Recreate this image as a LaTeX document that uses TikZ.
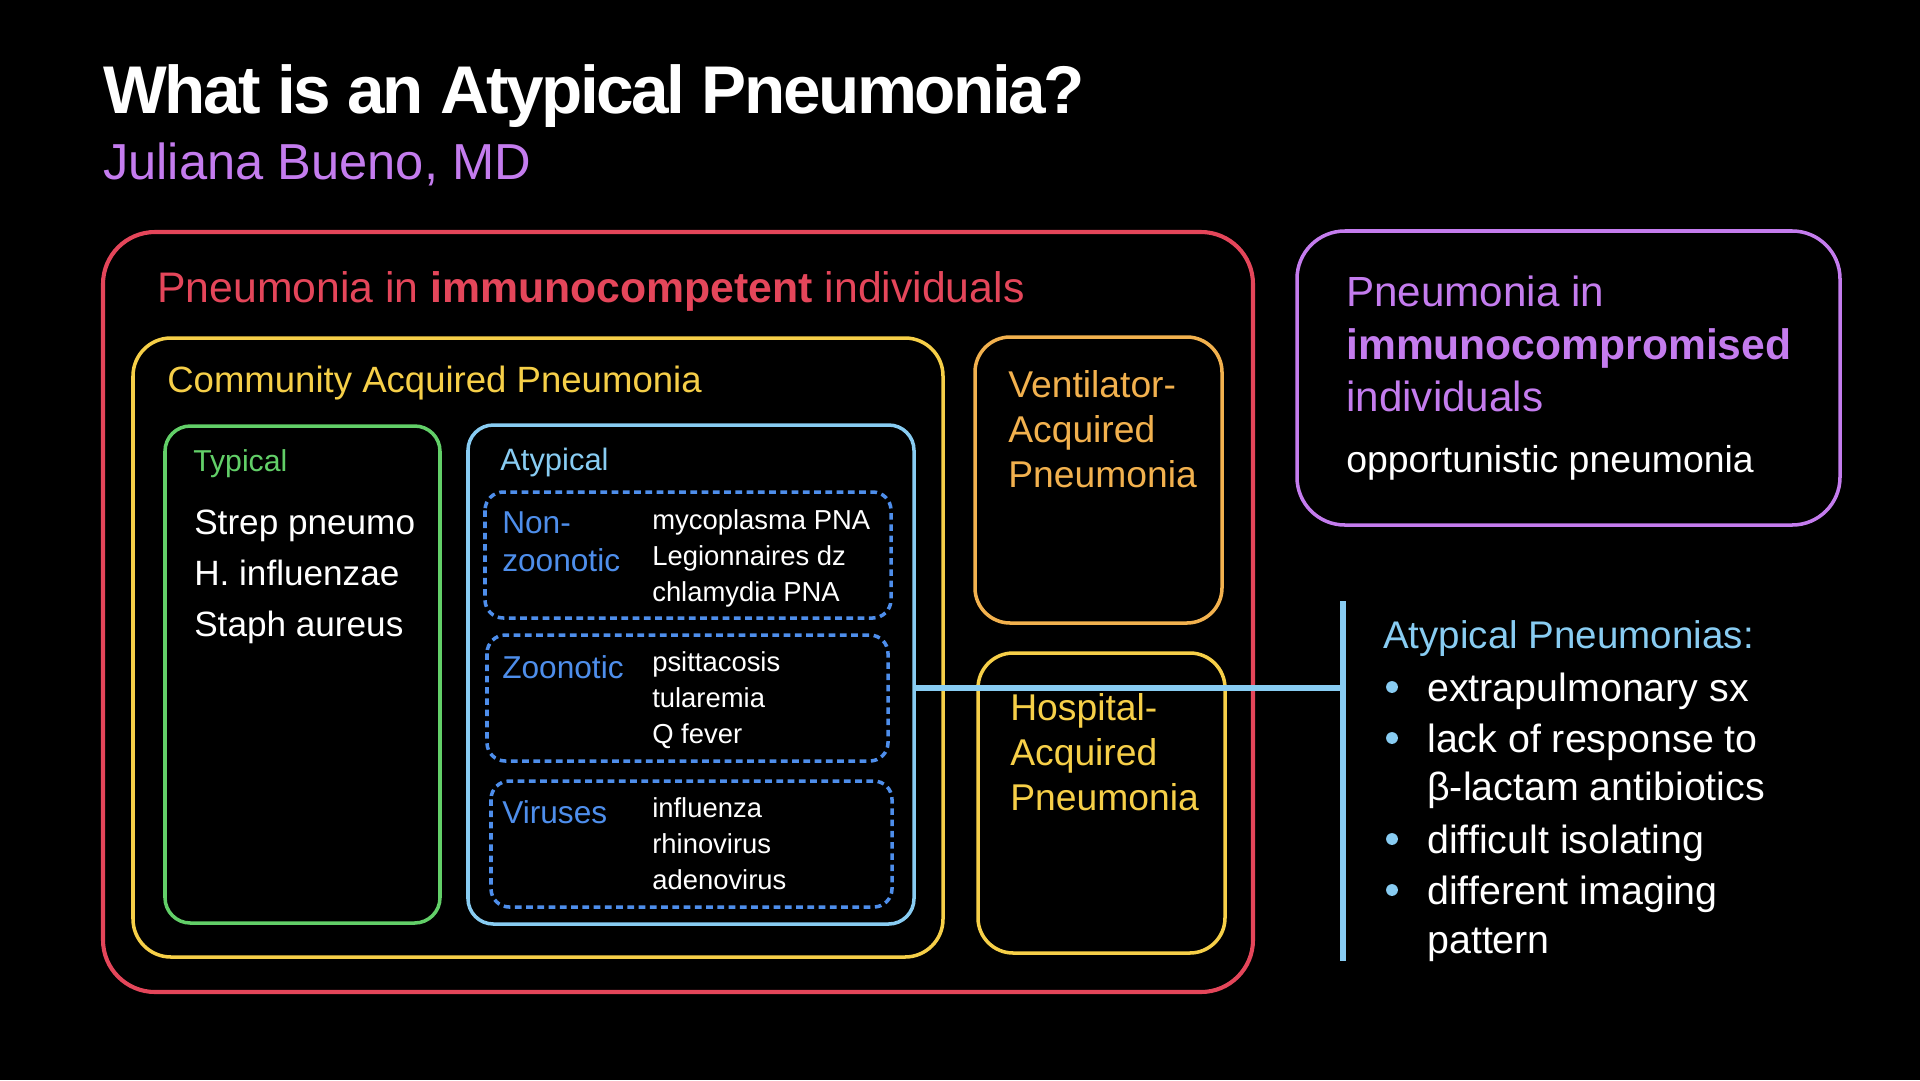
\documentclass[tikz,border=0pt]{standalone}
\usepackage{fontspec}
\setmainfont{Liberation Sans}
\definecolor{pnred}{HTML}{E4465A}
\definecolor{capyel}{HTML}{F6CF48}
\definecolor{ventor}{HTML}{F2B14E}
\definecolor{typgrn}{HTML}{62CF68}
\definecolor{atyblu}{HTML}{88CCF2}
\definecolor{subblu}{HTML}{4E8EEB}
\definecolor{cmppur}{HTML}{C47CEE}
\newcommand{\fs}[1]{\fontsize{#1}{1.2\dimexpr#1pt\relax}\selectfont}
\tikzset{
  panel/.style={line width=2.5pt, rounded corners=#1},
  subbox/.style={subblu, line width=2.5pt, dash pattern=on 4.7pt off 3.3pt, rounded corners=13pt},
  txt/.style={anchor=base west, inner sep=0pt, text=white},
  link/.style={atyblu, line width=3.6pt},
}
\begin{document}
\begin{tikzpicture}[x=0.025cm,y=-0.025cm]
\fill[black] (0,0) rectangle (1920,1080);
\useasboundingbox (0,0) rectangle (1920,1080);
% title
\node[txt,font=\fs{48}\bfseries\addfontfeatures{LetterSpace=-3.6}] (title) at (103,113) {What is an Atypical Pneumonia?};
\node[txt,text=cmppur,font=\fs{36}] (author) at (103,179) {Juliana Bueno, MD};
% immunocompetent
\draw[panel=37pt,pnred,line width=2.9pt] (103,232) rectangle (1253,992);
\node[txt,text=pnred,font=\fs{30.4}] (comphd) at (157,302) {Pneumonia in \textbf{immunocompetent} individuals};
\draw[panel=27pt,capyel] (133,338) rectangle (943,957);
\node[txt,text=capyel,font=\fs{26}] (caphd) at (167,392) {Community Acquired Pneumonia};
% typical
\draw[panel=18pt,typgrn] (165,426) rectangle (440,923);
\node[txt,text=typgrn,font=\fs{21.5}] (typhd) at (193,471) {Typical};
\foreach \t [count=\i] in {Strep pneumo, H. influenzae, Staph aureus}
  \node[txt,font=\fs{25}] (typ\i) at (194,{534+51*(\i-1)}) {\t};
% atypical
\draw[panel=18pt,atyblu] (468,425) rectangle (914,924);
\node[txt,text=atyblu,font=\fs{22}] (atyhd) at (500,470) {Atypical};
\draw[subbox] (485,492) rectangle (891,618);
\draw[subbox] (487,635) rectangle (888,761);
\draw[subbox] (491,781) rectangle (892,907);
\node[txt,text=subblu,font=\fs{22.5}] (nonz1) at (502,533) {Non-};
\node[txt,text=subblu,font=\fs{22.5}] (nonz2) at (502,571) {zoonotic};
\node[txt,text=subblu,font=\fs{22.5}] (zoo) at (502,678) {Zoonotic};
\node[txt,text=subblu,font=\fs{22.5}] (vir) at (502,823) {Viruses};
\foreach \t [count=\i] in {mycoplasma PNA, Legionnaires dz, chlamydia PNA}
  \node[txt,font=\fs{19.5}] (nz\i) at (652,{529+36*(\i-1)}) {\t};
\foreach \t [count=\i] in {psittacosis, tularemia, Q fever}
  \node[txt,font=\fs{19.5}] (zo\i) at (652,{671+36*(\i-1)}) {\t};
\foreach \t [count=\i] in {influenza, rhinovirus, adenovirus}
  \node[txt,font=\fs{19.5}] (vi\i) at (652,{817+36*(\i-1)}) {\t};
% VAP / HAP
\draw[panel=25pt,ventor] (975,337) rectangle (1222,623);
\foreach \t [count=\i] in {Ventilator-, Acquired, Pneumonia}
  \node[txt,text=ventor,font=\fs{26.5}] (vap\i) at (1008,{397+45*(\i-1)}) {\t};
\draw[panel=25pt,capyel] (978,653) rectangle (1225,953);
\foreach \t [count=\i] in {Hospital-, Acquired, Pneumonia}
  \node[txt,text=capyel,font=\fs{26.5}] (hap\i) at (1010,{720+45*(\i-1)}) {\t};
% immunocompromised
\draw[panel=34pt,cmppur] (1297,231) rectangle (1840,525);
\node[txt,text=cmppur,font=\fs{30}] (imm1) at (1346,306) {Pneumonia in};
\node[txt,text=cmppur,font=\fs{30.3}\bfseries] (imm2) at (1346,359) {immunocompromised};
\node[txt,text=cmppur,font=\fs{30}] (imm3) at (1346,411) {individuals};
\node[txt,font=\fs{26.6}] (opp) at (1346,472) {opportunistic pneumonia};
% connector and list
\coordinate (atyR) at (914,688);
\coordinate (barM) at (1343,688);
\coordinate (barT) at (1343,601);
\coordinate (barB) at (1343,961);
\draw[link] (atyR) -- (barM);
\draw[link] (barT) -- (barB);
\node[txt,text=atyblu,font=\fs{27.4}] (listhd) at (1383,648) {Atypical Pneumonias:};
\foreach \t/\y/\b [count=\i] in {extrapulmonary sx/701/1, lack of response to/752/1, β-lactam antibiotics/800/0, difficult isolating/853/1, different imaging/904/1, pattern/953/0} {
  \node[txt,font=\fs{28}] (li\i) at (1427,\y) {\t};
  \ifnum\b=1 \fill[atyblu] (1392,\y-14) circle (4.2pt); \fi
}
\end{tikzpicture}
\end{document}
